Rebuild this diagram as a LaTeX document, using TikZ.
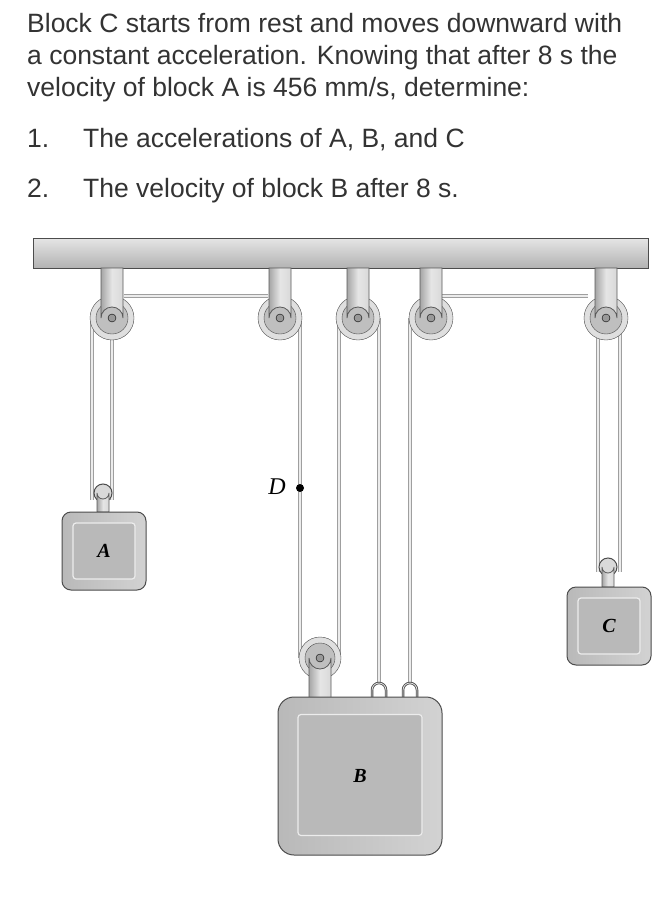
\documentclass[tikz,border=0pt]{standalone}
\usepackage{fontspec}
\setmainfont{Liberation Sans}
\begin{document}
\begin{tikzpicture}[x=1pt,y=-1pt,
 txt/.style={anchor=base west,font=\fontsize{26.5}{30}\selectfont,text=black!80,inner sep=0},
 rope/.style={draw=gray!75,line width=3.4pt,postaction={draw=gray!15,line width=1.3pt}},
 hang/.style={draw=gray!70!black,line width=0.8pt,left color=gray!70,right color=gray!30,middle color=gray!20},
 blk/.style={draw=gray!60!black,line width=1pt,rounded corners=9pt,left color=gray!55,right color=gray!35},
 inner/.style={draw=gray!15,line width=1.2pt,rounded corners=3pt,fill=gray!55},
 lab/.style={font=\fontsize{20}{20}\bfseries\itshape\fontspec{Liberation Serif}}]
\useasboundingbox (0,0) rectangle (662,912);
\fill[white] (0,0) rectangle (662,912);
% text
\node[txt] (t1) at (27,33) {Block C starts from rest and moves downward with};
\node[txt] (t2) at (27,65) {a constant acceleration. Knowing that after 8 s the};
\node[txt] (t3) at (27,97) {velocity of block A is 456 mm/s, determine:};
\node[txt] (n1) at (27,148) {1.};
\node[txt] (l1) at (83,148) {The accelerations of A, B, and C};
\node[txt] (n2) at (27,197) {2.};
\node[txt] (l2) at (83,197) {The velocity of block B after 8 s.};
% ropes
\draw[rope] (124,296) -- (268,296);
\draw[rope] (442,296) -- (588,296);
\draw[rope] (92,318) -- (92,500);
\draw[rope] (112,318) -- (112,500);
\draw[rope] (300,318) -- (300,658);
\draw[rope] (339,318) -- (339,658);
\draw[rope] (379,318) -- (379,683);
\draw[rope] (410,318) -- (410,683);
\draw[rope] (598,318) -- (598,572);
\draw[rope] (620,318) -- (620,572);
% ceiling
\node[draw=gray!60!black,minimum width=615pt,minimum height=30pt,inner sep=0,top color=gray!20,bottom color=gray!60] (bar) at (340.5,253) {};
% pulleys
\foreach \n/\px in {p1/112,p2/280,p3/358,p4/431,p5/606}{
 \node[circle,draw=gray!60!black,fill=gray!25,minimum size=44pt,inner sep=0] (\n) at (\px,318) {};
 \draw[gray!60!black,fill=gray!50] (\n) circle (16);
 \draw[hang] (\px-11,268) -- (\px-11,318) arc (180:360:11) -- (\px+11,268) -- cycle;
 \draw[fill=gray!80] (\n) circle (4);
}
% block A
\draw[gray!60!black,line width=1pt,fill=gray!30] (103,493) circle (9);
\draw[hang] (97,512) -- (97,493) arc (180:0:6) -- (109,512) -- cycle;
\node[blk,minimum width=84pt,minimum height=78pt] (A) at (104,551) {};
\node[inner,minimum width=62pt,minimum height=56pt] (Ai) at (A) {};
\node[lab] at (A) {A};
% block C
\draw[gray!60!black,line width=1pt,fill=gray!30] (608,567) circle (9);
\draw[hang] (602,587) -- (602,567) arc (180:0:6) -- (614,587) -- cycle;
\node[blk,minimum width=84pt,minimum height=78pt] (C) at (609,626) {};
\node[inner,minimum width=62pt,minimum height=56pt] (Ci) at (C) {};
\node[lab] at (C) {C};
% block B
\node[circle,draw=gray!60!black,fill=gray!25,minimum size=42pt,inner sep=0] (pB) at (320,658) {};
\draw[gray!60!black,fill=gray!50] (pB) circle (15);
\draw[hang] (309,698) -- (309,658) arc (180:0:11) -- (331,698) -- cycle;
\draw[fill=gray!80] (pB) circle (4);
\foreach \hx in {379,410}{\draw[gray!60!black,line width=2.5pt] (\hx-7,698) -- (\hx-7,690) arc (180:360:7) -- (\hx+7,698);
 \draw[gray!20,line width=0.8pt] (\hx-7,698) -- (\hx-7,690) arc (180:360:7) -- (\hx+7,698);}
\node[blk,rounded corners=16pt,minimum width=164pt,minimum height=158pt] (B) at (360,776) {};
\node[inner,minimum width=124pt,minimum height=121pt] (Bi) at (360,775) {};
\node[lab] at (B) {B};
% D
\fill (300,488) circle (4);
\node[lab,font=\fontsize{24}{24}\itshape\fontspec{Liberation Serif}] (D) at (277,487) {D};
\end{tikzpicture}
\end{document}
